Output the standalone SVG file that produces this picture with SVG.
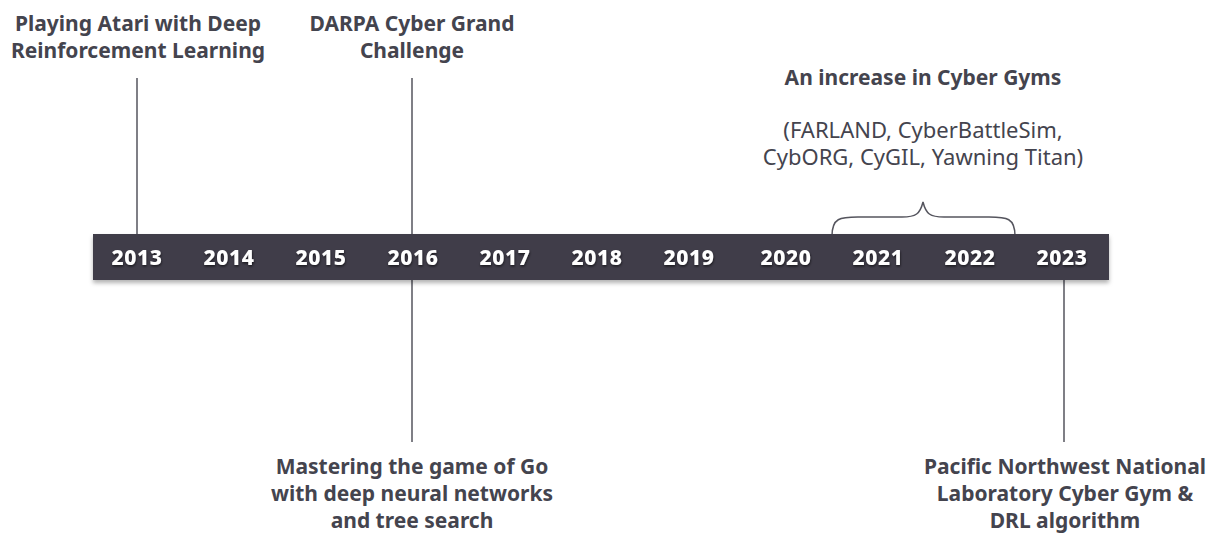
<svg xmlns="http://www.w3.org/2000/svg" width="1222" height="554" viewBox="0 0 1222 554">
<style>
.t{font-family:"Noto Sans","Liberation Sans",sans-serif;font-size:21px;font-weight:700;fill:#44444e;text-anchor:middle}
.n{font-weight:400;font-size:22px}
.y{font-family:"Noto Sans","Liberation Sans",sans-serif;font-size:21px;font-weight:800;fill:#ffffff;text-anchor:middle;letter-spacing:0.6px}
.ln{stroke:#55555e;stroke-width:1.5;fill:none}
</style>
<defs>
<filter id="sh" x="-5%" y="-30%" width="110%" height="180%">
<feDropShadow dx="0" dy="3" stdDeviation="2" flood-color="#000" flood-opacity="0.3"/>
</filter>
<filter id="ts" x="-20%" y="-30%" width="140%" height="160%">
<feDropShadow dx="0.5" dy="1.5" stdDeviation="0.8" flood-color="#000" flood-opacity="0.6"/>
</filter>
</defs>
<rect width="1222" height="554" fill="#ffffff"/>
<g id="connectors">
<line class="ln" x1="137" y1="78" x2="137" y2="234"/>
<line class="ln" x1="412" y1="78" x2="412" y2="442"/>
<line class="ln" x1="1064" y1="280" x2="1064" y2="442"/>
<path class="ln" d="M832,236 C832,218 840,217 858,217 L902,217 C916,217 920,214 923,202 C926,214 930,217 944,217 L989,217 C1007,217 1015,218 1015,236"/>
</g>
<g id="timeline">
<rect x="93" y="234" width="1016" height="46" fill="#3f3e4a" filter="url(#sh)"/>
<g filter="url(#ts)">
<text class="y" x="137" y="265">2013</text>
<text class="y" x="229" y="265">2014</text>
<text class="y" x="321" y="265">2015</text>
<text class="y" x="413" y="265">2016</text>
<text class="y" x="505" y="265">2017</text>
<text class="y" x="597" y="265">2018</text>
<text class="y" x="689" y="265">2019</text>
<text class="y" x="786" y="265">2020</text>
<text class="y" x="878" y="265">2021</text>
<text class="y" x="970" y="265">2022</text>
<text class="y" x="1062" y="265">2023</text>
</g>
</g>
<g id="atari">
<text class="t" x="138" y="31">Playing Atari with Deep</text>
<text class="t" x="138" y="58">Reinforcement Learning</text>
</g>
<g id="darpa">
<text class="t" x="412" y="31">DARPA Cyber Grand</text>
<text class="t" x="412" y="58">Challenge</text>
</g>
<g id="gyms">
<text class="t" x="923" y="85">An increase in Cyber Gyms</text>
<text class="t n" x="923" y="138">(FARLAND, CyberBattleSim,</text>
<text class="t n" x="923" y="165">CybORG, CyGIL, Yawning Titan)</text>
</g>
<g id="go">
<text class="t" x="412" y="474">Mastering the game of Go</text>
<text class="t" x="412" y="501">with deep neural networks</text>
<text class="t" x="412" y="528">and tree search</text>
</g>
<g id="pnnl">
<text class="t" x="1065" y="474">Pacific Northwest National</text>
<text class="t" x="1065" y="501">Laboratory Cyber Gym &amp;</text>
<text class="t" x="1065" y="528">DRL algorithm</text>
</g>
</svg>
